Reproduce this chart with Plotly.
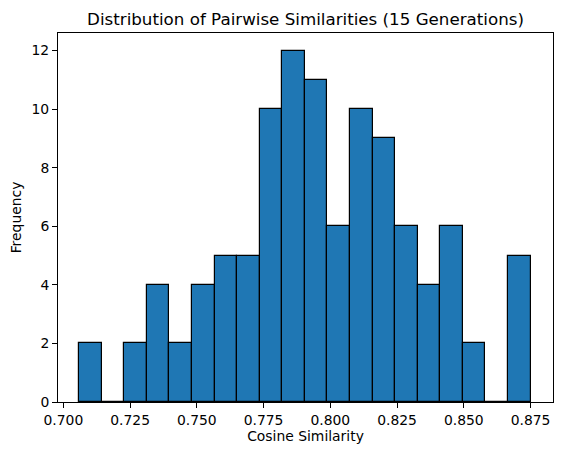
import plotly.graph_objects as go

# histogram of pairwise cosine similarities, 20 bins
bin_start = 0.7059
bin_end = 0.875
counts = [2, 0, 2, 4, 2, 4, 5, 5, 10, 12, 11, 6, 10, 9, 6, 4, 6, 2, 0, 5]
x_ticks = [0.700, 0.725, 0.750, 0.775, 0.800, 0.825, 0.850, 0.875]
y_ticks = [0, 2, 4, 6, 8, 10, 12]

n_bins = len(counts)
bin_width = (bin_end - bin_start) / n_bins
centers = [bin_start + bin_width * (i + 0.5) for i in range(n_bins)]

fig = go.Figure(
    go.Bar(
        x=centers,
        y=counts,
        width=bin_width,
        marker=dict(color="#1f77b4", line=dict(color="black", width=1.2)),
    )
)

axis_style = dict(
    showline=True,
    linecolor="black",
    linewidth=1,
    mirror=True,
    ticks="outside",
    ticklen=5,
    tickcolor="black",
    showgrid=False,
    zeroline=False,
    automargin=False,
    tickfont=dict(family="DejaVu Sans", size=13.9, color="black"),
    title_font=dict(family="DejaVu Sans", size=13.9, color="black"),
)

# the page body adds an 8px offset, so the figure is 8px smaller
W, H = 554, 447
fig.update_layout(
    width=W,
    height=H,
    margin=dict(l=50, r=9, t=25, b=53),
    plot_bgcolor="white",
    paper_bgcolor="white",
    showlegend=False,
    bargap=0,
    title=dict(
        text="Distribution of Pairwise Similarities (15 Generations)",
        x=(50 + W - 9) / 2 / W,
        xanchor="center",
        y=1 - 11 / H,
        yanchor="middle",
        font=dict(family="DejaVu Sans", size=16.7, color="black"),
    ),
    xaxis=dict(
        axis_style,
        range=[0.698, 0.8834],
        tickvals=x_ticks,
        tickformat=".3f",
        title=dict(text="Cosine Similarity", standoff=4),
    ),
    yaxis=dict(
        axis_style,
        range=[0, 12.6],
        tickvals=y_ticks,
        title=dict(text="Frequency", standoff=6),
    ),
)

fig.write_html("out.html")
